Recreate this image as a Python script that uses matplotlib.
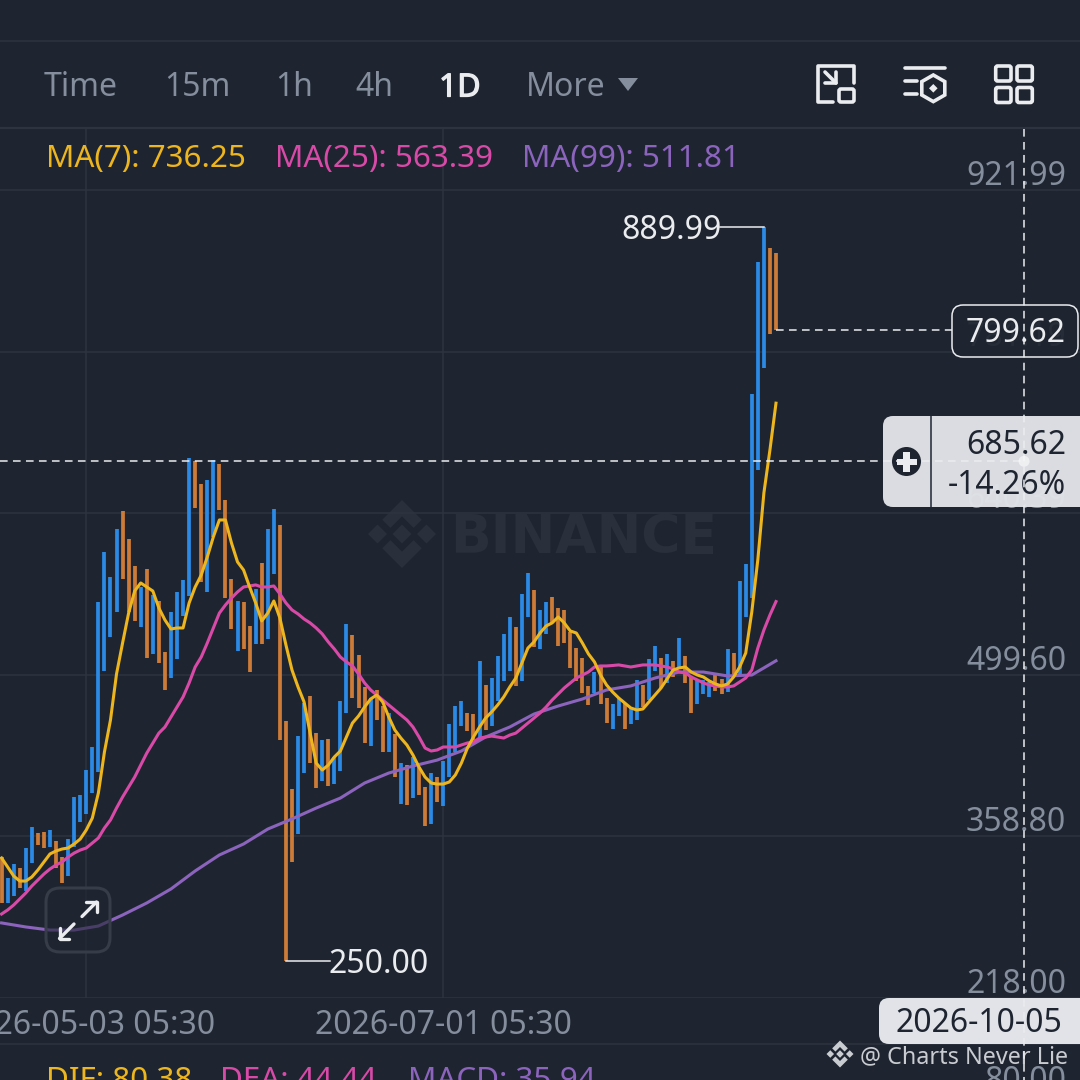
import matplotlib
matplotlib.use("Agg")
import matplotlib.pyplot as plt
import matplotlib.dates as mdates
import matplotlib.patheffects as pe
from matplotlib.patches import FancyBboxPatch, Circle, Polygon, Rectangle
from matplotlib.transforms import ScaledTranslation
import pandas as pd

plt.rcParams['font.family'] = ['Noto Sans', 'DejaVu Sans']

# daily bars, 2026-04-19 to 2026-08-25
highs = [340.8,322.5,334.7,331.3,348.7,367.0,361.7,362.6,364.4,354.8,
         340.8,356.5,393.1,394.9,416.6,436.7,563.1,606.6,584.8,626.7,
         642.3,617.9,594.4,576.1,591.8,569.2,563.9,519.6,554.3,571.8,
         582.1,688.5,685.9,665.8,669.3,686.8,683.3,651.9,583.1,563.9,
         563.1,542.1,574.4,597.0,626.7,644.1,630.1,459.3,400.1,446.2,
         475.0,481.1,448.8,442.7,443.6,428.0,476.8,543.9,534.3,516.9,
         489.0,479.4,486.4,472.4,466.3,447.9,422.7,420.9,428.0,419.2,
         401.8,414.0,410.5,424.4,456.7,472.4,476.8,466.3,465.4,511.6,
         490.7,496.8,516.0,535.2,550.0,541.3,570.1,588.3,573.5,556.1,
         563.1,567.4,557.8,556.1,536.9,522.9,514.2,489.9,502.0,506.4,
         479.4,474.2,479.4,475.0,470.7,495.1,490.7,513.4,524.7,514.2,
         517.7,511.6,531.7,516.0,497.7,495.1,495.1,493.3,499.4,496.0,
         522.1,518.6,581.3,596.1,744.2,859.3,889.99,871.5,867.2]
lows = [300.8,300.8,306.9,313.8,311.2,335.6,351.3,348.7,349.5,331.3,
        318.2,324.3,349.5,371.3,378.3,396.6,414.9,502.9,532.6,554.3,
        583.1,554.3,546.5,541.3,514.3,517.8,509.9,486.4,496.8,513.4,
        550.4,568.3,645.0,580.5,571.8,619.7,643.3,566.5,539.5,520.4,
        522.2,502.0,526.4,526.4,530.8,587.4,442.7,250.0,336.5,360.9,
        414.0,422.7,401.0,407.1,402.7,404.4,415.8,466.3,479.4,470.7,
        440.1,437.6,460.2,432.3,432.3,410.5,387.0,386.1,392.2,394.9,
        367.8,369.6,388.8,385.3,410.5,432.3,455.0,450.6,442.7,444.5,
        451.5,455.0,476.8,494.2,502.9,489.9,494.2,550.0,523.8,522.1,
        535.2,544.8,524.7,527.3,505.6,494.2,483.8,473.3,483.8,474.2,
        457.6,452.4,463.7,452.4,456.7,460.2,471.5,477.6,502.9,488.1,
        492.5,497.7,505.6,492.5,466.3,474.2,482.9,480.3,485.5,482.9,
        484.6,499.4,499.4,550.0,566.5,678.0,766.9,796.5,799.62]
down_bars = [0,3,6,7,9,10,20,21,22,24,26,27,32,33,36,37,38,40,41,43,46,47,48,
             51,52,54,58,59,60,62,63,65,67,69,70,72,77,78,80,85,88,91,92,93,
             94,95,96,97,99,100,103,106,109,111,113,114,118,119,121,127,128]

ma7 = [340.0,332.1,324.3,319.9,319.9,323.4,329.5,336.5,343.5,346.1,
       347.8,348.7,352.2,356.5,364.4,374.8,396.6,432.3,460.2,500.3,
       527.3,553.4,572.6,579.6,576.1,572.6,557.8,547.4,539.5,540.4,
       540.4,562.2,576.1,586.5,602.2,619.7,634.5,634.5,614.4,597.9,
       590.9,576.1,562.2,546.5,553.4,563.9,549.1,525.6,503.8,489.0,
       475.9,448.8,422.7,416.6,420.9,428.0,433.2,445.4,457.6,463.7,
       471.5,478.5,482.0,475.9,462.8,451.5,444.5,438.4,429.7,419.2,
       410.5,405.3,404.4,404.4,406.2,412.3,422.7,435.8,445.4,454.1,
       461.9,467.2,473.3,480.3,489.0,496.8,509.9,522.9,528.2,536.0,
       542.1,544.8,550.0,544.8,537.8,536.0,527.3,517.8,510.8,499.4,
       490.7,484.6,479.4,475.0,470.7,468.9,469.8,475.9,481.9,488.1,
       495.9,503.8,505.6,506.4,502.0,499.4,497.7,494.2,491.6,489.9,
       491.6,497.7,506.4,518.6,554.3,599.9,658.0,695.5,736.25]
ma25 = [291.2,294.7,299.0,304.3,309.5,315.6,320.8,326.0,330.4,333.9,
        336.5,340.8,344.3,346.9,348.7,353.0,357.4,366.1,373.1,383.5,
        393.1,401.8,410.5,420.9,431.4,440.1,448.8,454.1,462.8,471.5,
        480.3,492.5,506.4,515.1,527.3,540.4,553.4,560.4,566.5,571.8,
        576.1,577.0,577.9,576.1,576.1,577.0,570.1,562.2,556.1,552.6,
        548.2,544.8,540.4,535.2,528.2,522.1,515.1,510.8,507.3,500.3,
        492.5,486.4,482.0,477.6,473.3,468.9,464.6,460.2,454.1,445.4,
        435.8,433.2,434.1,436.7,436.7,436.7,438.4,440.2,441.0,444.5,
        445.4,446.2,445.4,444.5,447.1,448.8,453.2,457.6,461.9,466.3,
        471.5,477.6,482.9,488.1,492.5,496.8,499.4,502.0,506.4,507.3,
        507.3,507.7,508.2,507.3,506.4,507.3,508.2,508.2,508.2,507.3,
        506.4,504.7,502.0,501.2,497.7,495.1,492.5,490.7,489.9,489.0,
        489.0,489.9,493.3,496.8,503.8,522.9,538.6,551.7,563.39]
# MA(99) is smooth, one reading every 4 bars
ma99 = [283.4,279.9,277.2,277.2,280.7,290.3,300.8,313.0,328.7,342.6,352.2,
        365.2,374.0,383.5,392.2,405.3,414.0,420.1,425.3,433.2,445.4,454.1,
        465.4,472.4,478.5,486.4,489.9,496.8,502.0,502.0,498.6,499.4,511.81]

price_ticks = [921.99, 781.19, 640.39, 499.60, 358.80, 218.00]
price_labels = ['921.99', '781.19', '640.39', '499.60', '358.80', '218.00']
date_ticks = ['2026-05-03', '2026-07-01']
date_labels = ['2026-05-03 05:30', '2026-07-01 05:30']
period_labels = ['Time', '15m', '1h', '4h', '1D', 'More']

last_price = 799.62
cursor_price = 685.62
cursor_change = '-14.26%'
cursor_date = '2026-10-05'

BG = '#1E2530'
GRID = '#2E343F'
GREY = '#848E9C'
WHITE = '#EAECEF'
BLUE = '#2B8AE6'
ORANGE = '#CD7B36'
YELLOW = '#EDB51E'
PINK = '#D94AA8'
PURPLE = '#8C64BE'
CHIP = '#E1E3E8'
DARK = '#1E2530'
FS = 23

dates = pd.date_range('2026-04-19', periods=len(highs), freq='D')
x = mdates.date2num(dates)
colors = [ORANGE if i in down_bars else BLUE for i in range(len(x))]

fig = plt.figure(figsize=(10.8, 10.8), dpi=100, facecolor=BG)

# back layer for the watermark, price axes, then front layer for the app chrome (pixel units)
back = fig.add_axes([0, 0, 1, 1], zorder=0)
ax = fig.add_axes([0, 82 / 1080, 1, 870 / 1080], zorder=1)
ui = fig.add_axes([0, 0, 1, 1], zorder=2)
for a in (back, ui):
    a.set_xlim(0, 1080)
    a.set_ylim(1080, 0)
    a.axis('off')
back.patch.set_alpha(0)
ui.patch.set_alpha(0)
ax.patch.set_alpha(0)

ax.set_xlim(x[0] - 0.26, x[0] + 178.25)
ax.set_ylim(218.0, 976.0)
for s in ax.spines.values():
    s.set_visible(False)

ax.yaxis.tick_right()
ax.set_yticks(price_ticks)
ax.set_yticklabels(price_labels, fontsize=FS, color=GREY, ha='right', va='bottom')
ax.tick_params(axis='y', length=0, pad=-10)
# price labels sit a little lower than the bottom-aligned default
for lab in ax.get_yticklabels():
    lab.set_transform(lab.get_transform() + ScaledTranslation(0, -2 / 72, fig.dpi_scale_trans))
ax.set_xticks(mdates.date2num(pd.to_datetime(date_ticks)))
ax.set_xticklabels(date_labels, fontsize=FS, color=GREY)
ax.tick_params(axis='x', length=0, pad=8)
ax.grid(True, color=GRID, linewidth=1.1)
ax.set_axisbelow(True)

ax.vlines(x, lows, highs, colors=colors, linewidth=2.7, zorder=3)
ax.plot(x[::4], ma99, color=PURPLE, linewidth=2.2, zorder=4)
ax.plot(x, ma25, color=PINK, linewidth=2.2, zorder=4)
ax.plot(x, ma7, color=YELLOW, linewidth=2.2, zorder=5)

# high and low callouts
top_i = highs.index(max(highs))
low_i = lows.index(min(lows))
ax.annotate('889.99', xy=(x[top_i], highs[top_i]), xytext=(-30, -2.5), textcoords='offset points',
            ha='right', va='center', fontsize=FS, color=WHITE, zorder=6)
ax.annotate('250.00', xy=(x[low_i], lows[low_i]), xytext=(31, -2.5), textcoords='offset points',
            ha='left', va='center', fontsize=FS, color=WHITE, zorder=6)


def to_px(date_num, price):
    px, py = ax.transData.transform((date_num, price))
    return px, 1080 - py


def binance_logo(target, cx, cy, r, color):
    shapes = [
        [(0, -0.28), (0.28, 0), (0, 0.28), (-0.28, 0)],
        [(-0.72, -0.28), (-0.44, 0), (-0.72, 0.28), (-1, 0)],
        [(0.72, -0.28), (1, 0), (0.72, 0.28), (0.44, 0)],
        [(0, -1), (0.58, -0.42), (0.34, -0.18), (0, -0.52), (-0.34, -0.18), (-0.58, -0.42)],
        [(0, 1), (0.58, 0.42), (0.34, 0.18), (0, 0.52), (-0.34, 0.18), (-0.58, 0.42)],
    ]
    for s in shapes:
        target.add_patch(Polygon([(cx + a * r, cy + b * r) for a, b in s], closed=True,
                                 facecolor=color, edgecolor='none'))


def rounded(target, x0, y0, x1, y1, rad, **kw):
    p = FancyBboxPatch((x0 + rad, y0 + rad), x1 - x0 - 2 * rad, y1 - y0 - 2 * rad,
                       boxstyle='round,pad=%f,rounding_size=%f' % (rad, rad), **kw)
    target.add_patch(p)


# callout leaders
hx, hy = to_px(x[top_i], highs[top_i])
lx, ly = to_px(x[low_i], lows[low_i])
ui.plot([720, hx], [hy, hy], color=WHITE, lw=1.1)
ui.plot([lx, 330], [ly, ly], color=WHITE, lw=1.1)

# watermark
binance_logo(back, 402, 534, 34, '#2A303B')
back.text(450, 538, 'BINANCE', fontsize=38.5, fontweight='bold', family='DejaVu Sans',
          color='#2A303B', va='center', ha='left')

# header rules
for yy, lw in [(41, 1.1), (128, 1.6), (1044, 1.1)]:
    back.plot([0, 1080], [yy, yy], color=GRID, lw=lw)

# period tabs
for label, px_left in zip(period_labels, [44, 164, 275, 355, 439, 526]):
    sel = label == '1D'
    t = ui.text(px_left, 88, label, fontsize=FS, color=WHITE if sel else GREY, va='center', ha='left')
    if sel:
        t.set_path_effects([pe.withStroke(linewidth=0.9, foreground=WHITE)])
ui.add_patch(Polygon([(618, 78), (638, 78), (628, 91)], closed=True, facecolor=GREY, edgecolor='none'))

# toolbar icons
lw_icon = 2.6
ui.plot([854, 854, 817.5, 817.5, 833], [83, 66, 66, 102, 102], color=WHITE, lw=lw_icon, solid_capstyle='round')
rounded(ui, 839, 89, 854, 102, 2, fill=False, edgecolor=WHITE, lw=lw_icon)
ui.plot([825, 836], [72, 83], color=WHITE, lw=lw_icon, solid_capstyle='round')
ui.plot([825, 836, 836], [83, 83, 72], color=WHITE, lw=lw_icon, solid_capstyle='round')
ui.plot([905, 945], [67.5, 67.5], color=WHITE, lw=lw_icon, solid_capstyle='round')
ui.plot([905, 917], [81, 81], color=WHITE, lw=lw_icon, solid_capstyle='round')
ui.plot([905, 917], [94, 94], color=WHITE, lw=lw_icon, solid_capstyle='round')
ui.add_patch(Polygon([(933.3, 75), (944.8, 81.6), (944.8, 95), (933.3, 101.6), (921.8, 95), (921.8, 81.6)],
                     closed=True, fill=False, edgecolor=WHITE, lw=lw_icon))
ui.add_patch(Polygon([(933.3, 84), (937.6, 88.3), (933.3, 92.6), (929, 88.3)], closed=True,
                     facecolor=WHITE, edgecolor='none'))
for sx in (995.7, 1017):
    for sy in (66, 87.5):
        rounded(ui, sx, sy, sx + 15.3, sy + 15, 2, fill=False, edgecolor=WHITE, lw=lw_icon)

# MA legend
ui.text(46, 159, 'MA(7): 736.25', fontsize=22.6, color=YELLOW, va='center', ha='left')
ui.text(275, 159, 'MA(25): 563.39', fontsize=22.6, color=PINK, va='center', ha='left')
ui.text(522, 159, 'MA(99): 511.81', fontsize=22.6, color=PURPLE, va='center', ha='left')

# expand button
rounded(ui, 46, 888, 110, 952, 14, facecolor=BG, alpha=0.6, edgecolor='none')
rounded(ui, 46, 888, 110, 952, 14, fill=False, edgecolor='#363C48', lw=2.2)
ui.plot([82, 96.5], [916.5, 902], color=WHITE, lw=2.4, solid_capstyle='round')
ui.plot([86, 96.5, 96.5], [902, 902, 912], color=WHITE, lw=2.4, solid_capstyle='round')
ui.plot([74, 59.5], [924, 938.5], color=WHITE, lw=2.4, solid_capstyle='round')
ui.plot([59.5, 59.5, 69], [928, 938.5, 938.5], color=WHITE, lw=2.4, solid_capstyle='round')

# last price line and tag
last_x, last_y = to_px(x[-1], last_price)
ui.plot([last_x, 952], [last_y, last_y], color=WHITE, lw=1.1, dashes=(5, 3.5))
rounded(ui, 952, 305, 1078, 357, 11, facecolor=BG, alpha=0.92, edgecolor='none')
rounded(ui, 952, 305, 1078, 357, 11, fill=False, edgecolor=WHITE, lw=1.1)
ui.text(1066, last_y + 3, '%.2f' % last_price, fontsize=FS, color=WHITE, va='center', ha='right')

# crosshair tag
_, cur_y = to_px(x[0], cursor_price)
cur_x, _ = to_px(mdates.date2num(pd.Timestamp(cursor_date)), cursor_price)
rounded(ui, 883, 416, 1095, 507, 10, facecolor=CHIP, alpha=0.97, edgecolor='none')
ui.add_patch(Rectangle((930, 416), 2.4, 91, facecolor='#4A505B', edgecolor='none'))
ui.add_patch(Circle((906.5, 461.5), 14.5, facecolor=DARK, edgecolor='none'))
ui.add_patch(Rectangle((896.5, 458.5), 20, 6.5, facecolor=WHITE, edgecolor='none'))
ui.add_patch(Rectangle((903.3, 451.5), 6.5, 20, facecolor=WHITE, edgecolor='none'))
ui.text(1066, 445, '%.2f' % cursor_price, fontsize=FS, color=DARK, va='center', ha='right')
ui.text(1066, 486, cursor_change, fontsize=FS, color=DARK, va='center', ha='right')

# date tag
rounded(ui, 879, 998, 1095, 1044, 10, facecolor=CHIP, edgecolor='none')
ui.text(979, 1024, cursor_date, fontsize=FS, color=DARK, va='center', ha='center')

# crosshair lines
ui.plot([0, 1024], [cur_y, cur_y], color=WHITE, lw=1.1, dashes=(5, 3.5), zorder=6)
ui.plot([cur_x, cur_x], [129, 1080], color=WHITE, lw=1.1, dashes=(5, 3.5), zorder=6)
ui.add_patch(Circle((cur_x, cur_y), 5.5, facecolor='white', alpha=0.55, edgecolor='none', zorder=6))

# MACD header, cut off by the bottom edge
ui.text(46, 1081, 'DIF: 80.38', fontsize=22.6, color=YELLOW, va='center', ha='left')
ui.text(220, 1081, 'DEA: 44.44', fontsize=22.6, color=PINK, va='center', ha='left')
ui.text(408, 1081, 'MACD: 35.94', fontsize=22.6, color=PURPLE, va='center', ha='left')
ui.text(1066, 1081, '80.00', fontsize=FS, color=GREY, va='center', ha='right')

# source tag
binance_logo(ui, 840, 1054, 13.5, '#C9CCD1')
ui.text(860, 1057, '@ Charts Never Lie', fontsize=16.8, color='#C9CCD1', va='center', ha='left')

fig.savefig('out.png', dpi=100, facecolor=BG)
